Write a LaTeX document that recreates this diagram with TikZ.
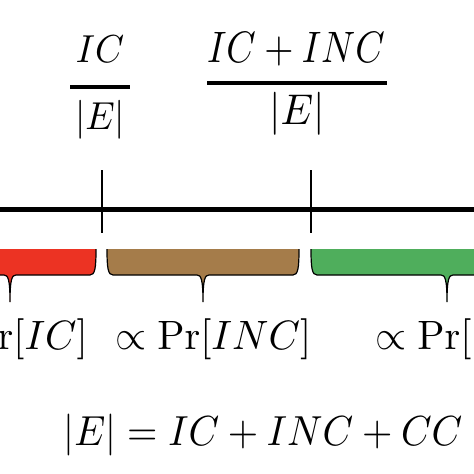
\documentclass[tikz,border=0pt]{standalone}
\usepackage{amsmath}
\definecolor{icred}{HTML}{EC3323}
\definecolor{incbrown}{HTML}{A57C4A}
\definecolor{ccgreen}{HTML}{4FAE5C}
% x scale, y scale (of 10pt), formula
\newcommand{\mtx}[3]{\scalebox{#1}[#2]{$#3$}}
% colour, left end, right end, tip
\newcommand{\colbrace}[4]{%
\fill[#1] (#2,249) -- (#3,249) .. controls (#3,268) and ({#3-1},275) .. ({#3-6},275) -- ({#4+6},275) .. controls ({#4+2},275) and (#4,279) .. (#4,302) .. controls (#4,279) and ({#4-2},275) .. ({#4-6},275) -- ({#2+6},275) .. controls ({#2+1},275) and (#2,268) .. (#2,249) -- cycle;
\draw[line width=1.2] (#3,249) .. controls (#3,268) and ({#3-1},275) .. ({#3-6},275) -- ({#4+6},275) .. controls ({#4+2},275) and (#4,279) .. (#4,302) .. controls (#4,279) and ({#4-2},275) .. ({#4-6},275) -- ({#2+6},275) .. controls ({#2+1},275) and (#2,268) .. (#2,249);}
\begin{document}
\begin{tikzpicture}[x=1pt, y=-1pt]
\useasboundingbox (0,0) rectangle (474,474);
\begin{scope}[every node/.style = {inner sep=0, anchor=base}]
\node (ic) at (100,62) {\mtx{3.7}{3.9}{IC}};
\node (e1) at (100,129) {\mtx{3.7}{3.9}{|E|}};
\node (icinc) at (296,62) {\mtx{3.75}{4.4}{IC+INC}};
\node (e2) at (297,124) {\mtx{4.1}{4.3}{|E|}};
\node[anchor=base east] (pic) at (88,349) {\mtx{4}{4.1}{\Pr[IC]}};
\node[anchor=base west] (pinc) at (115,349) {\mtx{4}{4.1}{\propto\Pr[INC]}};
\node[anchor=base west] (pcc) at (375,349) {\mtx{4}{4.1}{\propto\Pr[}};
\node (sum) at (263,445) {\mtx{3.9}{4.2}{|E|=IC+INC+CC}};
\end{scope}
\draw[line width=4] (70,87) -- (130,87);
\draw[line width=3.5] (207,83) -- (387,83);
\draw[line width=5] (0,209) -- (474,209);
\draw[line width=1.3] (102,170) -- (102,233);
\draw[line width=1.3] (311,170) -- (311,233);
\colbrace{icred}{-10}{96}{10}
\colbrace{incbrown}{107}{299}{203}
\colbrace{ccgreen}{311}{484}{447}
\end{tikzpicture}
\end{document}
